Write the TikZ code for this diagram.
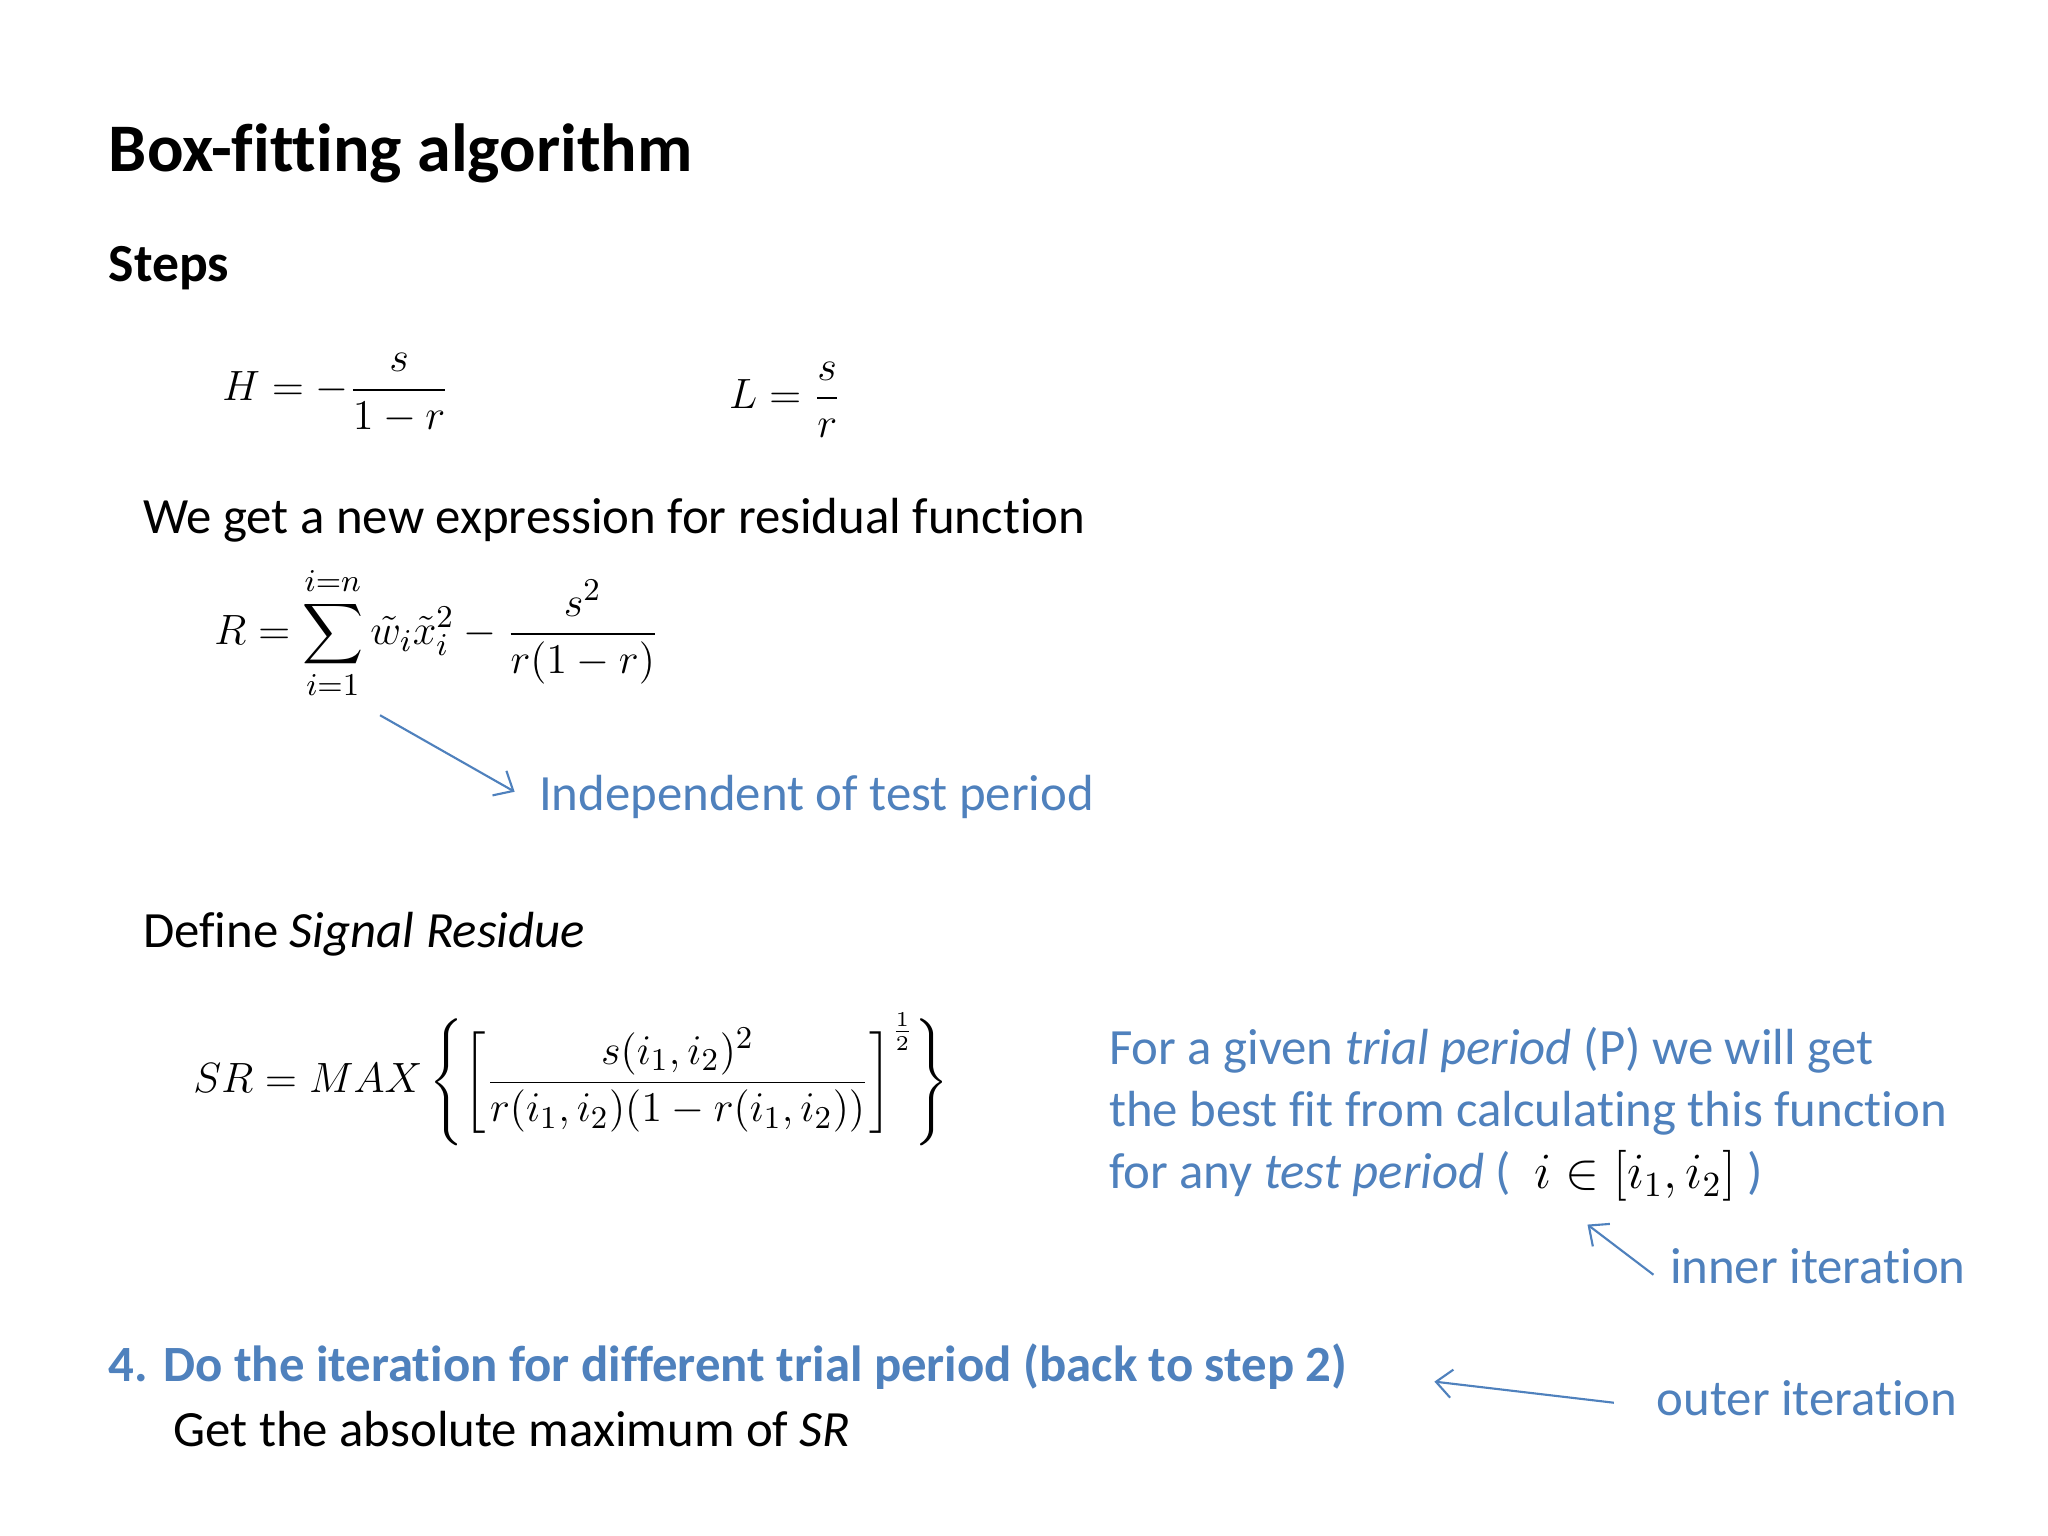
\documentclass[tikz,border=0pt]{standalone}
\usepackage{amsmath}
\usepackage{fontspec}
\setmainfont{Carlito}[Ligatures=NoCommon]
\usetikzlibrary{arrows.meta}
\definecolor{blu}{RGB}{79,129,189}
\begin{document}
\begin{tikzpicture}[x=0.374pt,y=-0.374pt,
  txt/.style={anchor=base west,inner sep=0,font=\fontsize{14.4}{17}\selectfont},
  btxt/.style={txt,text=blu},
  mth/.style={anchor=west,inner sep=0,font=\fontsize{12.3}{14}\selectfont},
  arr/.style={draw=blu,-{Straight Barb[length=4.5pt,width=8pt]},line width=0.6pt}]
\useasboundingbox[fill=white] (0,0) rectangle (1552,1164);
\node[txt,font=\bfseries\fontsize{19.3}{22}\selectfont] (title) at (82,130) {Box-fitting algorithm};
\node[txt,font=\bfseries\fontsize{15.2}{18}\selectfont] (steps) at (82,213) {Steps};
\node[mth] (H) at (168,298) {$H=-\dfrac{s}{1-r}$};
\node[mth] (L) at (552,303) {$L=\dfrac{s}{r}$};
\node[txt] (t1) at (108,404) {We get a new expression for residual function};
\node[mth] (R) at (162,480) {$R=\displaystyle\sum_{i=1}^{i=n}\tilde{w}_i\tilde{x}_i^2-\frac{s^2}{r(1-r)}$};
\coordinate (a1) at (288,542);
\node[btxt] (ind) at (408,614) {Independent of test period};
\coordinate (a1e) at (390,600);
\draw[arr] (a1) -- (a1e);
\node[txt] (t2) at (108,718) {Define \textit{Signal Residue}};
\node[mth,font=\fontsize{12.8}{15}\selectfont] (SR) at (146,818) {$SR=MAX\left\{\left[\dfrac{s(i_1,i_2)^2}{r(i_1,i_2)(1-r(i_1,i_2))}\right]^{\frac12}\right\}$};
\node[btxt] (p1) at (840,807) {For a given \textit{trial period} (P) we will get};
\node[btxt] (p2) at (840,854) {the best fit from calculating this function};
\node[btxt] (p3) at (840,901) {for any \textit{test period} (\ \ \textcolor{black}{$i\in[i_1,i_2]$} )};
\node[btxt] (inner) at (1265,973) {inner iteration};
\coordinate (a2) at (1253,966);
\coordinate (a2e) at (1203,928);
\draw[arr] (a2) -- (a2e);
\node[btxt,font=\bfseries\fontsize{14.4}{17}\selectfont] (s4) at (82,1047) {4. Do the iteration for different trial period (back to step 2)};
\node[txt] (t3) at (131,1096) {Get the absolute maximum of \textit{SR}};
\node[btxt] (outer) at (1255,1073) {outer iteration};
\coordinate (a3) at (1223,1063);
\coordinate (a3e) at (1087,1047);
\draw[arr] (a3) -- (a3e);
\end{tikzpicture}
\end{document}
